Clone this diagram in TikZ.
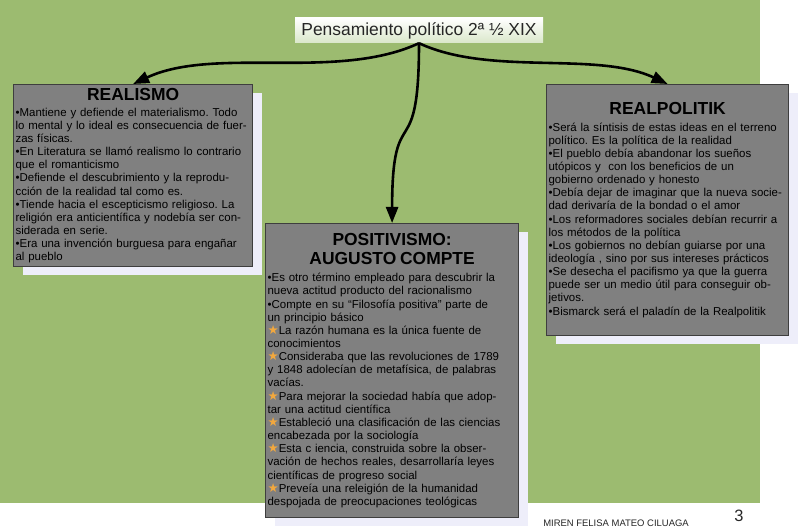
\documentclass[tikz,border=0pt]{standalone}
\usepackage{fontspec}
\setmainfont{Liberation Sans}
\newfontfamily\starfont{DejaVu Sans}
\usetikzlibrary{arrows.meta, positioning, shadows}
\definecolor{fondo}{RGB}{156,187,112}
\definecolor{cajagris}{RGB}{128,128,128}
\definecolor{bordegris}{RGB}{62,62,62}
\definecolor{sombra}{RGB}{238,238,250}
\definecolor{tituloverde}{RGB}{218,231,202}
\definecolor{naranja}{RGB}{242,168,62}
\newcommand{\cuerpo}{\frenchspacing\fontsize{11.5}{13.2}\selectfont}
\newcommand{\encabezado}{\fontsize{17.5}{19}\selectfont\bfseries}
\newcommand{\estrella}{{\starfont\fontsize{12.5}{13.2}\selectfont\color{naranja}★}}
\tikzstyle{tema} = [rectangle, draw=bordegris, line width=1.2bp, fill=cajagris, text=black, align=left, inner xsep=2bp, inner ysep=0bp, font=\cuerpo, drop shadow={shadow xshift=9bp, shadow yshift=-8bp, fill=sombra, opacity=1}]
\tikzstyle{titulo} = [rectangle, top color=white, bottom color=tituloverde, minimum width=248bp, minimum height=25bp, inner sep=0bp, text=black!85, font=\fontsize{17.5}{20}\selectfont]
\tikzstyle{pie} = [inner sep=0bp, text=black!85]
\tikzstyle{arrow} = [line width=2.6bp, -{Triangle[length=16bp, width=12bp]}]

\begin{document}
\begin{tikzpicture}[x=1bp, y=1bp, node distance=1cm]
\useasboundingbox (0,0) rectangle (800,531);
\fill [fondo] (0,28) rectangle (760,531);

\node (titulo) [titulo] at (419,500.5) {Pensamiento político 2ª ½ XIX};

\node (realismo) [tema, anchor=north west, text width=235bp, minimum height=182bp] at (13,447) {%
{\centering\encabezado REALISMO\par}\vspace{3bp}
•Mantiene y defiende el materialismo. Todo\\
lo mental y lo ideal es consecuencia de fuer-\\
zas físicas.\\
•En Literatura se llamó realismo lo contrario\\
que el romanticismo\\
•Defiende el descubrimiento y la reprodu-\\
cción de la realidad tal como es.\\
•Tiende hacia el escepticismo religioso. La\\
religión era anticientífica y nodebía ser con-\\
siderada en serie.\\
•Era una invención burguesa para engañar\\
al pueblo};

\node (realpolitik) [tema, anchor=north west, text width=238bp, minimum height=251bp] at (546,447) {%
{\centering\encabezado REALPOLITIK\par}\vspace{3bp}
•Será la síntisis de estas ideas en el terreno\\
político. Es la política de la realidad\\
•El pueblo debía abandonar los sueños\\
utópicos y~ con los beneficios de un\\
gobierno ordenado y honesto\\
•Debía dejar de imaginar que la nueva socie-\\
dad derivaría de la bondad o el amor\\
•Los reformadores sociales debían recurrir a\\
los métodos de la política\\
•Los gobiernos no debían guiarse por una\\
ideología , sino por sus intereses prácticos\\
•Se desecha el pacifismo ya que la guerra\\
puede ser un medio útil para conseguir ob-\\
jetivos.\\
•Bismarck será el paladín de la Realpolitik};

\node (positivismo) [tema, anchor=north west, text width=249bp, minimum height=294bp] at (265,308) {%
{\centering\encabezado POSITIVISMO:\\AUGUSTO COMPTE\par}\vspace{4bp}
•Es otro término empleado para descubrir la\\
nueva actitud producto del racionalismo\\
•Compte en su “Filosofía positiva” parte de\\
un principio básico\\
\estrella La razón humana es la única fuente de\\
conocimientos\\
\estrella Consideraba que las revoluciones de 1789\\
y 1848 adolecían de metafísica, de palabras\\
vacías.\\
\estrella Para mejorar la sociedad había que adop-\\
tar una actitud científica\\
\estrella Estableció una clasificación de las ciencias\\
encabezada por la sociología\\
\estrella Esta c iencia, construida sobre la obser-\\
vación de hechos reales, desarrollaría leyes\\
científicas de progreso social\\
\estrella Preveía una releigión de la humanidad\\
despojada de preocupaciones teológicas};

\node (autora) [pie, font=\fontsize{9.5}{11}\selectfont] at (616,8) {MIREN FELISA MATEO CILUAGA};
\node (pagina) [pie, font=\fontsize{16.5}{18}\selectfont] at (739,15) {3};

\draw [arrow] (titulo.south) to[out=205, in=25, looseness=0.8] (realismo.north);
\draw [arrow] (titulo.south) to[out=-25, in=155, looseness=0.8] (realpolitik.north);
\draw [arrow] (titulo.south) to[out=-90, in=90, looseness=1.8] (positivismo.north);
\end{tikzpicture}
\end{document}
